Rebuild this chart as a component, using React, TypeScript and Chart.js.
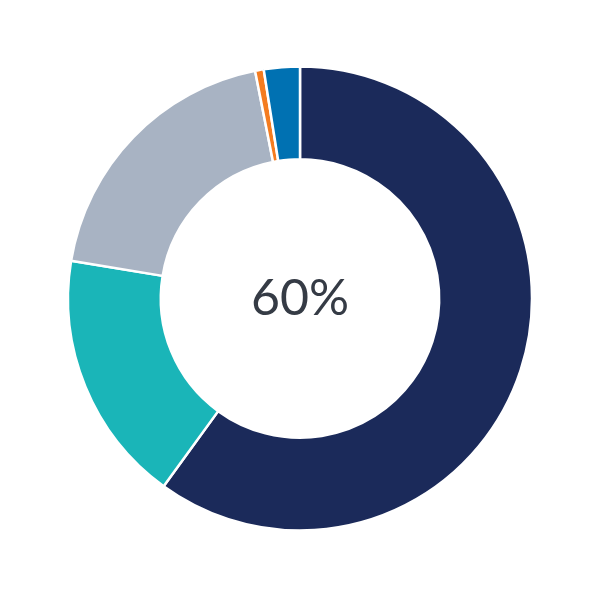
import React, { useEffect, useRef } from "react";
import { Chart, registerables } from "chart.js";

Chart.register(...registerables);

const categories = ["Navy", "Teal", "Gray", "Orange", "Blue"];
const values = [60, 17.6, 19.3, 0.6, 2.5];
const colors = ["#1b2a5a", "#1ab5b8", "#a8b3c3", "#f47c20", "#0071b2"];
const centerLabel = "60%";

const centerText = {
  id: "centerText",
  afterDraw(chart: any) {
    const { ctx } = chart;
    const meta = chart.getDatasetMeta(0);
    const arc = meta.data[0];
    if (!arc) return;
    ctx.save();
    ctx.font = "400 50px Lato";
    ctx.fillStyle = "#353b45";
    ctx.textAlign = "center";
    ctx.textBaseline = "middle";
    ctx.fillText(centerLabel, arc.x, arc.y);
    ctx.restore();
  },
};

export default function App() {
  const ref = useRef<HTMLCanvasElement>(null);
  useEffect(() => {
    if (!ref.current) return;
    const chart = new Chart(ref.current, {
      type: "doughnut",
      data: {
        labels: categories,
        datasets: [
          {
            data: values,
            backgroundColor: colors,
            borderColor: "#ffffff",
            borderWidth: 2.5,
            radius: 232,
          },
        ],
      },
      options: {
        responsive: true,
        maintainAspectRatio: false,
        animation: false,
        cutout: "60%",
        plugins: { legend: { display: false }, tooltip: { enabled: false } },
      },
      plugins: [centerText],
    });
    return () => chart.destroy();
  }, []);
  return (
    <div style={{ position: "fixed", left: 0, top: 0, width: 600, height: 597, background: "#fff" }}>
      <canvas ref={ref} />
    </div>
  );
}
